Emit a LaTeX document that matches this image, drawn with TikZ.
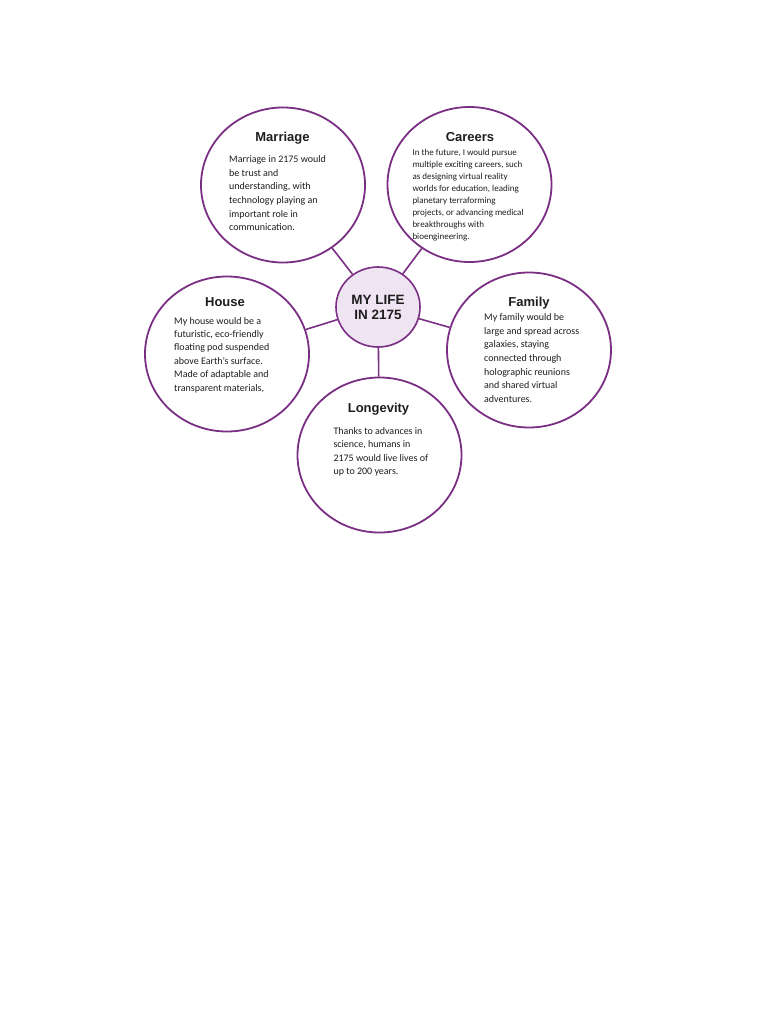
\documentclass[tikz,border=0pt]{standalone}
\usepackage{fontspec}
\setmainfont{Carlito}
\newfontfamily\headfont{Liberation Sans}
\usetikzlibrary{shapes.geometric,shadows}
\definecolor{bubbleline}{HTML}{7A2E84}
\definecolor{hubfill}{HTML}{EFE4F1}
\definecolor{inktext}{HTML}{1E1E1E}
\begin{document}
\begin{tikzpicture}[x=1pt, y=-1pt,
    bubble/.style={ellipse, draw=bubbleline, line width=1.8pt,
      minimum width=164pt, minimum height=155pt, inner sep=0pt},
    hub/.style={ellipse, draw=bubbleline, line width=1.6pt, fill=hubfill,
      minimum width=84pt, minimum height=80pt, inner sep=0pt, align=center,
      text=inktext, font=\headfont\bfseries\fontsize{13.5}{15}\selectfont,
      drop shadow={shadow xshift=0.8pt, shadow yshift=-0.8pt, opacity=0.25}},
    title/.style={anchor=base, inner sep=0pt, text=inktext,
      font=\headfont\bfseries\fontsize{13}{15}\selectfont},
    body/.style={anchor=base west, align=left, inner sep=0pt, text=inktext,
      font=\fontsize{10}{13.6}\selectfont},
    link/.style={draw=bubbleline, line width=1.6pt}]
  \useasboundingbox (0,0) rectangle (768,1024);
  \fill[white] (0,0) rectangle (768,1024);

  \node[hub] (life) at (378,307) {MY LIFE\\IN 2175};
  \node[bubble] (marriage) at (283,185) {};
  \node[bubble] (careers) at (469.5,184.5) {};
  \node[bubble] (house) at (227,354) {};
  \node[bubble] (family) at (529,350) {};
  \node[bubble] (longevity) at (379.5,455) {};

  \draw[link] (life) -- (marriage);
  \draw[link] (life) -- (careers);
  \draw[link] (life) -- (house);
  \draw[link] (life) -- (family);
  \draw[link] (life) -- (longevity);

  \node[title] (marriagetitle) at (282.5,141.5) {Marriage};
  \node[title] (careerstitle) at (470,141.5) {Careers};
  \node[title] (housetitle) at (225,306.5) {House};
  \node[title] (familytitle) at (529,306) {Family};
  \node[title] (longevitytitle) at (378.5,412.3) {Longevity};

  \node[body, font=\fontsize{10}{13.7}\selectfont] (marriagetext) at (229,230.8)
    {Marriage in 2175 would\\be trust and\\understanding, with\\technology playing an\\important role in\\communication.};
  \node[body, font=\fontsize{9}{12}\selectfont] (careerstext) at (412.3,239.3)
    {In the future, I would pursue\\multiple exciting careers, such\\as designing virtual reality\\worlds for education, leading\\planetary terraforming\\projects, or advancing medical\\breakthroughs with\\bioengineering.};
  \node[body, font=\fontsize{10}{13.4}\selectfont] (housetext) at (174,391)
    {My house would be a\\futuristic, eco-friendly\\floating pod suspended\\above Earth’s surface.\\Made of adaptable and\\transparent materials,};
  \node[body] (familytext) at (484,402.3)
    {My family would be\\large and spread across\\galaxies, staying\\connected through\\holographic reunions\\and shared virtual\\adventures.};
  \node[body] (longevitytext) at (333.3,474.8)
    {Thanks to advances in\\science, humans in\\2175 would live lives of\\up to 200 years.};
\end{tikzpicture}
\end{document}
